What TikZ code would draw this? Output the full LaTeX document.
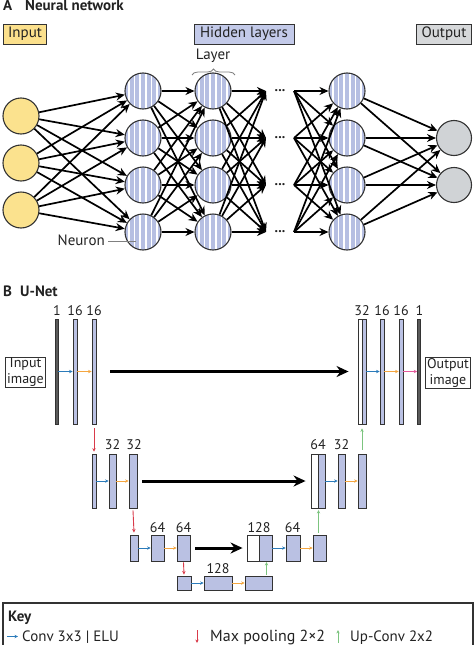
\documentclass[tikz,border=0pt]{standalone}
\usepackage{fontspec}
\setmainfont{PT Sans}
\usetikzlibrary{arrows.meta,decorations.pathreplacing,calc}
\definecolor{txt}{HTML}{222222}
\definecolor{ncol}{HTML}{333333}
\definecolor{yel}{HTML}{FBE28E}
\definecolor{yelbox}{HTML}{FBE08C}
\definecolor{hidbox}{HTML}{C3CAE9}
\definecolor{gry}{HTML}{D0D3D6}
\definecolor{grybox}{HTML}{D6D8DA}
\definecolor{stripe}{HTML}{B6BFE2}
\definecolor{barfill}{HTML}{BAC1E3}
\definecolor{dark}{HTML}{5A5A5A}
\definecolor{cblue}{HTML}{2B7BBA}
\definecolor{corange}{HTML}{F4A640}
\definecolor{cpink}{HTML}{E55A9C}
\definecolor{cred}{HTML}{D93A4A}
\definecolor{cgreen}{HTML}{7CC47F}
\begin{document}
\begin{tikzpicture}[x=1pt,y=-1pt,
  every node/.style={text=txt},
  neuron/.style={circle, draw=ncol, line width=1.1pt, minimum size=36pt, inner sep=0pt},
  inn/.style={neuron, fill=yel},
  outn/.style={neuron, fill=gry, minimum size=35pt},
  hid/.style={neuron, fill=white, path picture={
      \foreach \k in {-3,...,3}
        \fill[stripe] ($(path picture bounding box.center)+(\k*5.6-2,-20)$) rectangle ++(4,40);}},
  nnarrow/.style={draw=black, line width=1.7pt, -{Stealth[length=9pt,width=8pt]}},
  lbox/.style={draw=ncol, line width=0.9pt, minimum height=20pt, inner sep=0pt, font=\fontsize{15}{16}\selectfont},
  ttl/.style={font=\fontsize{15}{16}\selectfont\bfseries, anchor=base west, inner sep=0pt},
  num/.style={font=\fontsize{14}{15}\selectfont, anchor=base, inner sep=0pt},
  bar/.style={draw=ncol, line width=0.9pt, fill=barfill, inner sep=0pt},
  wbar/.style={draw=ncol, line width=0.9pt, fill=white, inner sep=0pt},
  dbar/.style={draw=ncol, line width=0.6pt, fill=dark, inner sep=0pt},
  small/.style={line width=0.9pt, -{Stealth[length=3.5pt,width=3.4pt]}},
  sblue/.style={small, draw=cblue},
  sorange/.style={small, draw=corange},
  spink/.style={small, draw=cpink},
  sred/.style={small, draw=cred},
  sgreen/.style={small, draw=cgreen},
  skip/.style={draw=black, line width=3pt, -{Stealth[length=12pt,width=11pt]}},
  imgbox/.style={draw=ncol, line width=0.8pt, inner xsep=1.5pt, inner ysep=1pt, align=center, font=\fontsize{14}{16}\selectfont},
  keytxt/.style={anchor=base west, inner sep=0pt, font=\fontsize{15}{16}\selectfont}
]
\useasboundingbox (0,0) rectangle (474,645);

% ---------- A: Neural network ----------
\node[ttl] (tA) at (3,10) {A};
\node[ttl] (tA2) at (25,10) {Neural network};
\node[lbox, fill=yelbox, minimum width=43pt] (inlab) at (25,34) {Input};
\node[lbox, fill=hidbox, minimum width=100pt] (hidlab) at (244,34) {Hidden layers};
\node[lbox, fill=grybox, minimum width=55pt] (outlab) at (444,34) {Output};

\foreach \i/\y in {1/116,2/163,3/210} \node[inn] (i\i) at (21,\y) {};
\foreach \i/\y in {1/91,2/138,3/185,4/232} {
  \node[hid] (a\i) at (143,\y) {};
  \node[hid] (b\i) at (213,\y) {};
  \node[hid] (c\i) at (347,\y) {};
  \coordinate (d\i) at (266,\y);
  \coordinate (e\i) at (294,\y);
  \node[inner sep=0pt, font=\fontsize{14}{14}\selectfont\bfseries] (dots\i) at (280,\y) {...};
}
\node[outn] (o1) at (454,138) {};
\node[outn] (o2) at (454,185) {};

\foreach \s in {1,2,3} \foreach \t in {1,...,4} \draw[nnarrow] (i\s) -- (a\t);
\foreach \s in {1,...,4} \foreach \t in {1,...,4} {
  \draw[nnarrow] (a\s) -- (b\t);
  \draw[nnarrow] (b\s) -- (d\t);
  \draw[nnarrow] (e\s) -- (c\t);
}
\foreach \s in {1,...,4} \foreach \t in {1,2} \draw[nnarrow] (c\s) -- (o\t);

\coordinate (brl) at (192,75);
\coordinate (brr) at (235,75);
\draw[decorate, decoration={brace, amplitude=6pt}, draw=gray, line width=0.8pt] (brl) -- (brr);
\node[font=\fontsize{15}{16}\selectfont, inner sep=0pt] (layerlab) at (213,56) {Layer};

\node[font=\fontsize{15}{16}\selectfont, inner sep=0pt, anchor=east] (neulab) at (105,240) {Neuron};
\coordinate (neuend) at (136,241);
\draw[gray, line width=0.7pt] (neulab.east) ++(3,1) coordinate (neust) (neust) -- (neuend);

% ---------- B: U-Net ----------
\node[ttl] (tB) at (3,296) {B};
\node[ttl] (tB2) at (20,296) {U-Net};

% level 1
\node[dbar, minimum width=3pt, minimum height=105pt] (L1a) at (56.5,371.5) {};
\node[bar, minimum width=4pt, minimum height=105pt] (L1b) at (75,371.5) {};
\node[bar, minimum width=4pt, minimum height=105pt] (L1c) at (94,371.5) {};
\node[wbar, minimum width=4pt, minimum height=105pt] (R1w) at (360,371.5) {};
\node[bar, minimum width=4pt, minimum height=105pt] (R1b) at (364,371.5) {};
\node[bar, minimum width=4pt, minimum height=105pt] (R1c) at (382,371.5) {};
\node[bar, minimum width=4pt, minimum height=105pt] (R1d) at (401,371.5) {};
\node[dbar, minimum width=3pt, minimum height=105pt] (R1e) at (419,371.5) {};
\node[num] at (57,315) {1};
\node[num] at (75,315) {16};
\node[num] at (94,315) {16};
\node[num] at (362,315) {32};
\node[num] at (382,315) {16};
\node[num] at (401,315) {16};
\node[num] at (419.5,315) {1};
\node[imgbox] (inimg) at (25.5,372.5) {Input\\image};
\node[imgbox] (outimg) at (448,372.5) {Output\\image};
\draw[sblue] (L1a.east) -- (L1b.west);
\draw[sorange] (L1b.east) -- (L1c.west);
\draw[sblue] (R1b.east) -- (R1c.west);
\draw[sorange] (R1c.east) -- (R1d.west);
\draw[spink] (R1d.east) -- (R1e.west);
\draw[skip] ([xshift=14pt]L1c.east) -- ([xshift=-9pt]R1w.west);

% level 2
\node[bar, minimum width=4pt, minimum height=54pt] (L2a) at (94,481) {};
\node[bar, minimum width=7pt, minimum height=54pt] (L2b) at (112.5,481) {};
\node[bar, minimum width=8pt, minimum height=54pt] (L2c) at (133,481) {};
\node[wbar, minimum width=7pt, minimum height=54pt] (R2w) at (314.5,481) {};
\node[bar, minimum width=7pt, minimum height=54pt] (R2b) at (321.5,481) {};
\node[bar, minimum width=7pt, minimum height=54pt] (R2c) at (341.5,481) {};
\node[bar, minimum width=8pt, minimum height=54pt] (R2d) at (362,481) {};
\node[num] at (112.5,449) {32};
\node[num] at (134,449) {32};
\node[num] at (318,449) {64};
\node[num] at (341.5,449) {32};
\draw[sblue] (L2a.east) -- (L2b.west);
\draw[sorange] (L2b.east) -- (L2c.west);
\draw[sblue] (R2b.east) -- (R2c.west);
\draw[sorange] (R2c.east) -- (R2d.west);
\draw[skip] ([xshift=5pt]L2c.east) -- ([xshift=-5pt]R2w.west);
\draw[sred] ([yshift=-4pt]L1c.south) -- ([yshift=2pt]L2a.north);
\draw[sgreen] ([yshift=4pt]R2d.north) -- ([yshift=-4pt]R2d.north |- R1b.south);

% level 3
\node[bar, minimum width=8pt, minimum height=26pt] (L3a) at (134,548) {};
\node[bar, minimum width=13pt, minimum height=26pt] (L3b) at (157.5,548) {};
\node[bar, minimum width=13pt, minimum height=26pt] (L3c) at (183.5,548) {};
\node[wbar, minimum width=12pt, minimum height=26pt] (R3w) at (253,548) {};
\node[bar, minimum width=13pt, minimum height=26pt] (R3b) at (265.5,548) {};
\node[bar, minimum width=14pt, minimum height=26pt] (R3c) at (293,548) {};
\node[bar, minimum width=13pt, minimum height=26pt] (R3d) at (319.5,548) {};
\node[num] at (157.5,532) {64};
\node[num] at (183.5,532) {64};
\node[num] at (259,532) {128};
\node[num] at (292.5,532) {64};
\draw[sblue] (L3a.east) -- (L3b.west);
\draw[sorange] (L3b.east) -- (L3c.west);
\draw[sblue] (R3b.east) -- (R3c.west);
\draw[sorange] (R3c.east) -- (R3d.west);
\draw[skip] ([xshift=5pt]L3c.east) -- ([xshift=-4pt]R3w.west);
\draw[sred] ([yshift=-2pt]L2c.south) -- ([yshift=2pt]L3a.north);
\coordinate (g2top) at (318.5,510);
\draw[sgreen] ([xshift=-1pt,yshift=2pt]R3d.north) -- (g2top);

% level 4
\node[bar, minimum width=14pt, minimum height=14pt] (B4a) at (184,583) {};
\node[bar, minimum width=28pt, minimum height=14pt] (B4b) at (218,583) {};
\node[bar, minimum width=27pt, minimum height=14pt] (B4c) at (258.5,583) {};
\node[num] at (218,573) {128};
\draw[sblue] (B4a.east) -- (B4b.west);
\draw[sorange] (B4b.east) -- (B4c.west);
\draw[sred] ([yshift=-1pt]L3c.south) -- ([yshift=1pt]B4a.north);
\coordinate (g3top) at (266.5,562);
\draw[sgreen] ([xshift=8pt,yshift=1pt]B4c.north) -- (g3top);

% ---------- Key ----------
\draw[draw=ncol, line width=1.5pt] (3,660) -- (3,603) -- (473,603) -- (473,660);
\node[ttl] (key) at (8,621.5) {Key};
\coordinate (k1s) at (7,636.5);
\coordinate (k1e) at (18,636.5);
\draw[sblue] (k1s) -- (k1e);
\node[keytxt] (k1) at (22,641) {Conv 3x3 | ELU};
\coordinate (k2s) at (197,630);
\coordinate (k2e) at (197,643);
\draw[sred] (k2s) -- (k2e);
\node[keytxt, font=\fontsize{16}{17}\selectfont] (k2) at (210,641) {Max pooling 2×2};
\coordinate (k3s) at (338,643);
\coordinate (k3e) at (338,630);
\draw[sgreen] (k3s) -- (k3e);
\node[keytxt] (k3) at (350,641) {Up-Conv 2x2};
\end{tikzpicture}
\end{document}
